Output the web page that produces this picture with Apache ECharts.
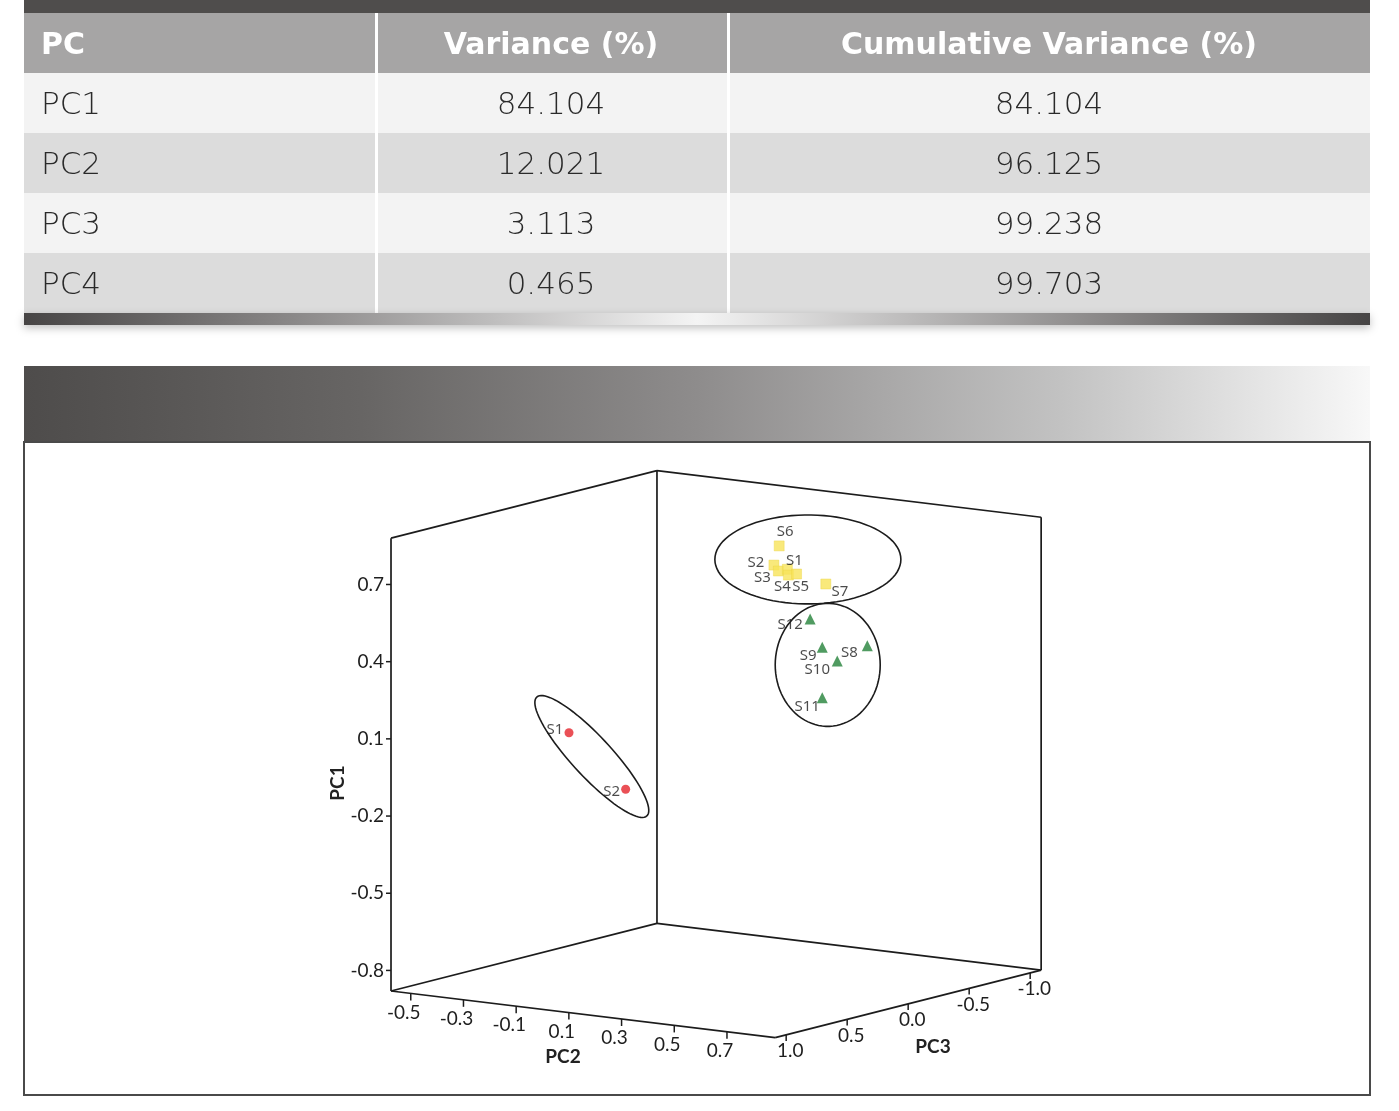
<!DOCTYPE html>
<html>
<head>
<meta charset="utf-8">
<script src="https://cdn.jsdelivr.net/npm/echarts@6/dist/echarts.min.js"></script>
<style>
  html, body { margin: 0; padding: 0; background: #fff; }
  #chart { width: 1399px; height: 1111px; }
</style>
</head>
<body>
<div id="chart"></div>
<script>
// ---- table data ----
var tableHeader = ['PC', 'Variance (%)', 'Cumulative Variance (%)'];
var pcNames = ['PC1', 'PC2', 'PC3', 'PC4'];
var variance = [84.104, 12.021, 3.113, 0.465];
var cumulative = [84.104, 96.125, 99.238, 99.703];

// ---- score data, each point is [PC2, PC3, PC1] ----
var yellowNames = ['S6', 'S2', 'S3', 'S1', 'S4', 'S5', 'S7'];
var yellowScores = [
  [0.162, -0.5, 0.750], [0.142, -0.5, 0.673], [0.159, -0.5, 0.652], [0.193, -0.5, 0.663],
  [0.197, -0.5, 0.641], [0.228, -0.5, 0.649], [0.339, -0.5, 0.624]
];
var greenNames = ['S12', 'S9', 'S8', 'S10', 'S11'];
var greenScores = [
  [0.372, -0.3, 0.516], [0.418, -0.3, 0.412], [0.589, -0.3, 0.439], [0.475, -0.3, 0.366], [0.418, -0.3, 0.216]
];
var redNames = ['S1', 'S2'];
var redScores = [[-0.219, 0.4, 0.085], [-0.004, 0.4, -0.108]];

// ---- axes ----
var pc1Range = [-0.88, 0.88];
var pc2Range = [-0.575, 0.883];
var pc3Range = [-1.09, 1.09];
var pc1Ticks = [-0.8, -0.5, -0.2, 0.1, 0.4, 0.7];
var pc2Ticks = [-0.5, -0.3, -0.1, 0.1, 0.3, 0.5, 0.7];
var pc3Ticks = [1.0, 0.5, 0.0, -0.5, -1.0];

// ---- styles / layout ----
var yellowLabelOffset = [[6, -14], [-18, -2], [-16, 7], [7, -9], [-6, 12], [4, 13], [14, 8]];
var greenLabelOffset = [[-20, 6], [-14, 8], [-18, 7], [-20, 9], [-15, 9]];
var redLabelOffset = [[-14, -3], [-14, 2]];
var ellipseShapes = [
  { rx: 93, ry: 44.5, rot: 0, dx: 8, dy: -5.5 },
  { rx: 52.5, ry: 61.5, rot: 0, dx: -11, dy: 6.5 },
  { rx: 81, ry: 20, rot: 47.2 * Math.PI / 180, dx: -5.5, dy: -4.5 }
];

// oblique projection of the 3D box (screen px per unit, y down)
var K = 257.3;
var U2 = [263.5, 32], U3 = [-122, 31], U1 = [0, -257.3];
var O = [675.5, 749.2];
var GRID = { left: 24, top: 443, width: 1346, height: 652 };

function proj(p) {
  var sx = U2[0] * p[0] + U3[0] * p[1] + U1[0] * p[2];
  var sy = U2[1] * p[0] + U3[1] * p[1] + U1[1] * p[2];
  return [sx / K, -sy / K];
}

var AXIS_FONT = 'Lato, "Noto Sans", sans-serif';
var TABLE_FONT = '"DejaVu Sans", sans-serif';
var INK = '#1c1c1c';

// box edges
function corner(i2, i3, i1) { return [pc2Range[i2], pc3Range[i3], pc1Range[i1]]; }
var edgeList = [
  [corner(0, 1, 0), corner(0, 1, 1)], // left vertical
  [corner(0, 0, 0), corner(0, 0, 1)], // back vertical
  [corner(1, 0, 0), corner(1, 0, 1)], // right vertical
  [corner(0, 1, 1), corner(0, 0, 1)],
  [corner(0, 0, 1), corner(1, 0, 1)],
  [corner(0, 1, 0), corner(0, 0, 0)],
  [corner(0, 0, 0), corner(1, 0, 0)],
  [corner(0, 1, 0), corner(1, 1, 0)], // PC2 axis
  [corner(1, 1, 0), corner(1, 0, 0)]  // PC3 axis
];
var edgeData = edgeList.map(function (e) { return proj(e[0]).concat(proj(e[1])); });

function scatterData(names, scores, offsets) {
  return scores.map(function (p, i) {
    return { name: names[i], value: proj(p), label: { offset: offsets[i] } };
  });
}

function bboxCenter(scores) {
  var pts = scores.map(proj);
  var xs = pts.map(function (q) { return q[0]; });
  var ys = pts.map(function (q) { return q[1]; });
  return [(Math.min.apply(null, xs) + Math.max.apply(null, xs)) / 2,
          (Math.min.apply(null, ys) + Math.max.apply(null, ys)) / 2];
}
var ellipseData = [bboxCenter(yellowScores), bboxCenter(greenScores), bboxCenter(redScores)];

function tickSeries(data, tickDx, tickDy, labDx, labDy, align) {
  return {
    type: 'custom',
    silent: true,
    data: data,
    renderItem: function (params, api) {
      var p = api.coord([api.value(0), api.value(1)]);
      var v = api.value(2);
      return {
        type: 'group',
        children: [
          { type: 'line', shape: { x1: p[0], y1: p[1], x2: p[0] + tickDx, y2: p[1] + tickDy },
            style: { stroke: INK, lineWidth: 1.5 } },
          { type: 'text', x: p[0] + labDx, y: p[1] + labDy,
            style: { text: v.toFixed(1), align: align, verticalAlign: 'middle',
                     fontSize: 19, fontFamily: AXIS_FONT, fill: '#1e1e1e' } }
        ]
      };
    }
  };
}

var pc1TickData = pc1Ticks.map(function (v) { return proj([pc2Range[0], pc3Range[1], v]).concat([v]); });
var pc2TickData = pc2Ticks.map(function (v) { return proj([v, pc3Range[1], pc1Range[0]]).concat([v]); });
var pc3TickData = pc3Ticks.map(function (v) { return proj([pc2Range[1], v, pc1Range[0]]).concat([v]); });

// ---- table graphics ----
var TX = 24, TW = 1346, ROW_H = 60, HEAD_Y = 13;
var colCenters = [41, 551, 1049];
var dividers = [375, 727];
var graphics = [];
graphics.push({ type: 'rect', shape: { x: TX, y: 0, width: TW, height: HEAD_Y }, style: { fill: '#4f4d4c' } });
graphics.push({ type: 'rect', shape: { x: TX, y: HEAD_Y, width: TW, height: ROW_H }, style: { fill: '#a6a5a5' } });
pcNames.forEach(function (n, i) {
  var y = HEAD_Y + ROW_H * (i + 1);
  graphics.push({ type: 'rect', shape: { x: TX, y: y, width: TW, height: ROW_H },
    style: { fill: i % 2 === 0 ? '#f3f3f3' : '#dcdcdc' } });
});
dividers.forEach(function (x) {
  graphics.push({ type: 'rect', shape: { x: x, y: HEAD_Y, width: 3, height: ROW_H * 5 }, style: { fill: '#ffffff' } });
});
var bandY = HEAD_Y + ROW_H * 5;
graphics.push({ type: 'rect', shape: { x: TX, y: bandY, width: TW, height: 12 },
  style: {
    fill: new echarts.graphic.LinearGradient(0, 0, 1, 0, [
      { offset: 0, color: '#474545' }, { offset: 0.2, color: '#8a8888' },
      { offset: 0.5, color: '#f4f4f4' }, { offset: 0.8, color: '#8a8888' }, { offset: 1, color: '#474545' }
    ]),
    shadowBlur: 8, shadowColor: 'rgba(0,0,0,0.25)', shadowOffsetY: 3
  } });
tableHeader.forEach(function (t, c) {
  graphics.push({ type: 'text', x: colCenters[c], y: HEAD_Y + ROW_H / 2 + 3,
    style: { text: t, fill: '#ffffff', fontSize: 30, fontWeight: 'bold', fontFamily: TABLE_FONT,
             align: c === 0 ? 'left' : 'center', verticalAlign: 'middle' } });
});
pcNames.forEach(function (n, i) {
  var cy = HEAD_Y + ROW_H * (i + 1) + ROW_H / 2 + 3;
  var cells = [n, variance[i].toFixed(3), cumulative[i].toFixed(3)];
  cells.forEach(function (t, c) {
    graphics.push({ type: 'text', x: colCenters[c], y: cy,
      style: { text: t, fill: '#2a2a2a', fontSize: 31, fontWeight: 200, fontFamily: TABLE_FONT,
               align: c === 0 ? 'left' : 'center', verticalAlign: 'middle' } });
  });
});

// section bar + panel
graphics.push({ type: 'rect', shape: { x: TX, y: 366, width: TW, height: 76 },
  style: { fill: new echarts.graphic.LinearGradient(0, 0, 1, 0, [
    { offset: 0, color: '#4e4c4b' }, { offset: 0.25, color: '#676564' },
    { offset: 0.5, color: '#8e8c8c' }, { offset: 0.77, color: '#c2c2c2' }, { offset: 1, color: '#f8f8f8' }
  ]) } });
graphics.push({ type: 'rect', shape: { x: TX, y: 442, width: TW, height: 653 },
  style: { fill: 'none', stroke: '#4a4a4a', lineWidth: 2 } });

// axis names
graphics.push({ type: 'text', x: 563, y: 1057, style: { text: 'PC2', fontSize: 19, fontWeight: 'bold',
  fontFamily: AXIS_FONT, fill: '#222', align: 'center', verticalAlign: 'middle' } });
graphics.push({ type: 'text', x: 933, y: 1047, style: { text: 'PC3', fontSize: 19, fontWeight: 'bold',
  fontFamily: AXIS_FONT, fill: '#222', align: 'center', verticalAlign: 'middle' } });
graphics.push({ type: 'text', x: 338, y: 783, rotation: Math.PI / 2, style: { text: 'PC1', fontSize: 19,
  fontWeight: 'bold', fontFamily: AXIS_FONT, fill: '#222', align: 'center', verticalAlign: 'middle' } });

var pointLabel = { show: true, formatter: '{b}', position: 'inside', color: '#1e1e1e', fontSize: 15,
  fontFamily: '"Noto Sans", "Open Sans", sans-serif' };

var chart = echarts.init(document.getElementById('chart'));
chart.setOption({
  animation: false,
  backgroundColor: '#ffffff',
  graphic: graphics,
  grid: { left: GRID.left, top: GRID.top, width: GRID.width, height: GRID.height },
  xAxis: { type: 'value', show: false, min: (GRID.left - O[0]) / K, max: (GRID.left + GRID.width - O[0]) / K },
  yAxis: { type: 'value', show: false, min: (O[1] - GRID.top - GRID.height) / K, max: (O[1] - GRID.top) / K },
  series: [
    {
      type: 'custom', silent: true, data: edgeData,
      renderItem: function (params, api) {
        var a = api.coord([api.value(0), api.value(1)]);
        var b = api.coord([api.value(2), api.value(3)]);
        return { type: 'line', shape: { x1: a[0], y1: a[1], x2: b[0], y2: b[1] },
          style: { stroke: INK, lineWidth: 1.7 } };
      }
    },
    tickSeries(pc1TickData, -5, 0, -7, 0, 'right'),
    tickSeries(pc2TickData, 0, 7, -7, 19, 'center'),
    tickSeries(pc3TickData, 0, 6, 4, 16, 'center'),
    {
      type: 'custom', silent: true, data: ellipseData,
      renderItem: function (params, api) {
        var s = ellipseShapes[params.dataIndex];
        var c = api.coord([api.value(0), api.value(1)]);
        var cx = c[0] + s.dx, cy = c[1] + s.dy, pts = [];
        for (var i = 0; i < 90; i++) {
          var t = i / 90 * Math.PI * 2;
          var ex = s.rx * Math.cos(t), ey = s.ry * Math.sin(t);
          pts.push([cx + ex * Math.cos(s.rot) - ey * Math.sin(s.rot),
                    cy + ex * Math.sin(s.rot) + ey * Math.cos(s.rot)]);
        }
        return { type: 'polygon', shape: { points: pts },
          style: { fill: 'none', stroke: INK, lineWidth: 1.6 } };
      }
    },
    {
      type: 'scatter', symbol: 'rect', symbolSize: 10,
      itemStyle: { color: '#f8e35a', borderColor: '#ecd444', borderWidth: 0.5 },
      label: pointLabel, data: scatterData(yellowNames, yellowScores, yellowLabelOffset)
    },
    {
      type: 'scatter', symbol: 'triangle', symbolSize: 11,
      itemStyle: { color: '#24823a' },
      label: pointLabel, data: scatterData(greenNames, greenScores, greenLabelOffset)
    },
    {
      type: 'scatter', symbol: 'circle', symbolSize: 9,
      itemStyle: { color: '#e5242c' },
      label: pointLabel, data: scatterData(redNames, redScores, redLabelOffset)
    }
  ]
});
window.addEventListener('resize', function () { chart.resize(); });
</script>
</body>
</html>
